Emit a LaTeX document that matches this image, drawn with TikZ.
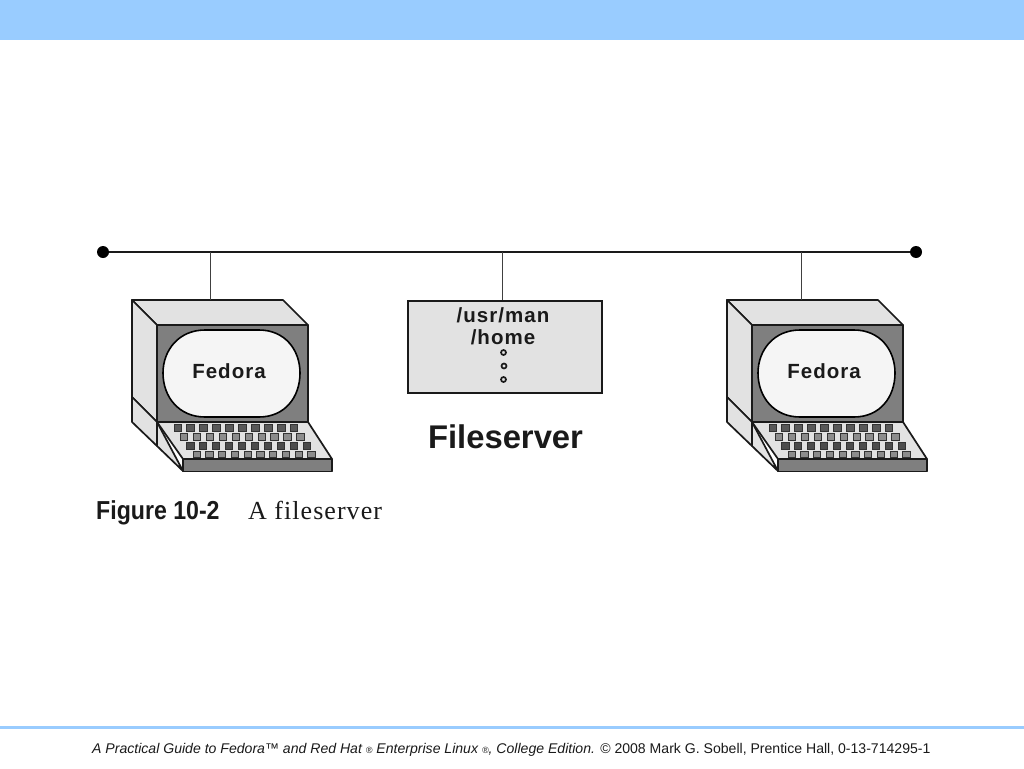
\documentclass[tikz,border=0pt]{standalone}
\usepackage{fontspec}
\setmainfont{Liberation Sans}
\newfontfamily\serifcap[LetterSpace=4]{Liberation Serif}
\newfontfamily\spacedbold[LetterSpace=5,BoldFont={Liberation Sans Bold}]{Liberation Sans}
\definecolor{headblue}{HTML}{99CCFF}
\definecolor{facegrey}{HTML}{E2E2E2}
\definecolor{framegrey}{HTML}{7F7F7F}
\definecolor{ovalgrey}{HTML}{F5F5F5}
\definecolor{inkc}{HTML}{1A1A1A}
\tikzset{
  outline/.style={draw=inkc,line width=1.7pt,line join=round},
  wire/.style={draw=black!75,line width=1.7pt},
  busline/.style={draw=inkc,line width=1.5pt},
  busdot/.style={circle,fill=black,inner sep=0pt,minimum size=12pt},
  keycap/.style={draw=black!80,line width=1pt,minimum width=7.4pt,minimum height=6.2pt,inner sep=0pt},
  screenlabel/.style={font=\spacedbold\bfseries\fontsize{20.5}{21}\selectfont,text=inkc,inner sep=0pt},
  pathlabel/.style={font=\spacedbold\bfseries\fontsize{20.5}{21}\selectfont,text=inkc,inner sep=0pt},
  vdot/.style={circle,draw=inkc,line width=1.7pt,inner sep=0pt,minimum size=5pt}
}
\newcommand{\drawcomputer}[2]{%
\begin{scope}[shift={(#1,0)}]
  \path[outline,fill=facegrey] (132,300) -- (283,300) -- (308,325) -- (157,325) -- cycle;
  \path[outline,fill=facegrey] (132,300) -- (157,325) -- (157,422) -- (132,397) -- cycle;
  \path[outline,fill=facegrey] (132,397) -- (157,422) -- (157,446) -- (132,422) -- cycle;
  \path[outline,fill=facegrey] (157,422) -- (183,471) -- (157,446) -- cycle;
  \path[outline,fill=framegrey] (157,325) rectangle (308,422);
  \path[outline,fill=facegrey] (157,422) -- (308,422) -- (332,459) -- (183,459) -- cycle;
  \path[outline,fill=framegrey] (183,459) rectangle (332,471.5);
  \path[draw=black,line width=1.6pt,fill=ovalgrey]
    (205,330) -- (259,330)
    .. controls (285,330) and (300,350) .. (300,373)
    .. controls (300,397) and (285,417) .. (259,417)
    -- (205,417)
    .. controls (179,417) and (163,397) .. (163,373)
    .. controls (163,350) and (179,330) .. (205,330) -- cycle;
  \node[screenlabel] (#2label) at (229,371) {Fedora};
  \foreach \i in {0,...,9} {
    \node[keycap,fill=black!65] at ({177.7+12.95*\i},428) {};
    \node[keycap,fill=black!45] at ({184+12.95*\i},437) {};
    \node[keycap,fill=black!70] at ({190.3+12.95*\i},446) {};
    \node[keycap,fill=black!45] at ({196.7+12.75*\i},454.5) {};
  }
\end{scope}}
\begin{document}
\begin{tikzpicture}[x=1pt,y=-1pt]
  \useasboundingbox (0,0) rectangle (1024,768);
  \fill[white] (0,0) rectangle (1024,768);
  \fill[headblue] (0,0) rectangle (1024,40);
  \fill[headblue] (0,726) rectangle (1024,728.5);

  \drawcomputer{0}{left}
  \drawcomputer{595}{right}

  \node[busdot] (busL) at (103,252) {};
  \node[busdot] (busR) at (916,252) {};
  \draw[busline] (busL) -- (busR);

  \node[draw=inkc,line width=1.5pt,fill=facegrey,minimum width=194pt,minimum height=92pt,inner sep=0pt,anchor=north west] (server) at (407,300) {};
  \node[pathlabel] (usr) at (503,315.5) {/usr/man};
  \node[pathlabel] (home) at (503,337) {/home};
  \node[vdot] (d1) at (503.5,352.5) {};
  \node[vdot] (d2) at (504,366) {};
  \node[vdot] (d3) at (503.5,379.5) {};
  \node[font=\bfseries\fontsize{32.8}{33}\selectfont,text=inkc,inner sep=0pt] (fs) at (505.5,436.5) {Fileserver};

  \coordinate (tapL) at (210.5,252);
  \coordinate (tapM) at (502.5,252);
  \coordinate (tapR) at (801.5,252);
  \coordinate (compL) at (210.5,300);
  \coordinate (compR) at (801.5,300);
  \draw[wire] (tapL) -- (compL);
  \draw[wire] (tapM) -- (tapM |- server.north);
  \draw[wire] (tapR) -- (compR);

  \node[anchor=base west,inner sep=0pt,xscale=0.89,font=\bfseries\fontsize{26}{26}\selectfont,text=inkc] (figlabel) at (96,519) {Figure 10-2};
  \node[anchor=base west,inner sep=0pt,font=\serifcap\fontsize{26}{26}\selectfont,text=inkc] (figtitle) at (248,519) {A fileserver};

  \node[anchor=base west,inner sep=0pt,font=\fontsize{14.07}{14}\selectfont,text=inkc] (foot) at (92,753) {\textit{A Practical Guide to Fedora™ and Red Hat {\fontsize{9}{9}\selectfont ®} Enterprise Linux {\fontsize{9}{9}\selectfont ®}, College Edition.} © 2008 Mark G. Sobell, Prentice Hall, 0-13-714295-1};
\end{tikzpicture}
\end{document}
